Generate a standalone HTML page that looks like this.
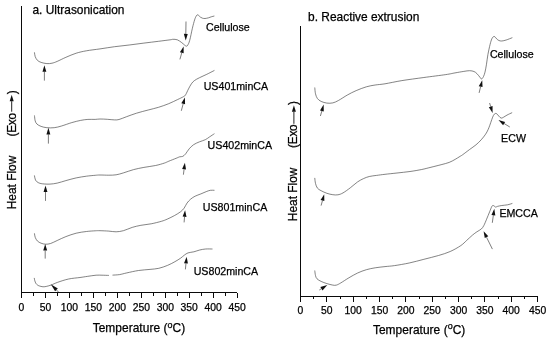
<!DOCTYPE html>
<html><head><meta charset="utf-8"><title>DSC curves</title>
<style>
html,body{margin:0;padding:0;background:#fff;}
body{width:550px;height:342px;overflow:hidden;}
svg{display:block;}
text{font-family:"Liberation Sans",sans-serif;fill:#000;stroke:#000;stroke-width:0.25px;}
.t{font-size:11.92px;}
.k{font-size:10.35px;}
.l{font-size:10.65px;}
.c{fill:none;stroke:#383838;stroke-width:0.62;stroke-linecap:round;stroke-linejoin:round;}
.ax{stroke:#0a0a0a;stroke-width:1;fill:none;shape-rendering:crispEdges;}
</style></head><body>
<svg width="550" height="342" viewBox="0 0 550 342">
<rect width="550" height="342" fill="#fff"/>

<path class="ax" d="M21.5,6 V292.5 H237.19"/>
<path class="ax" d="M21.50,292.5 v5.5 M33.48,292.5 v3.3 M45.47,292.5 v5.5 M57.45,292.5 v3.3 M69.43,292.5 v5.5 M81.41,292.5 v3.3 M93.39,292.5 v5.5 M105.38,292.5 v3.3 M117.36,292.5 v5.5 M129.34,292.5 v3.3 M141.32,292.5 v5.5 M153.31,292.5 v3.3 M165.29,292.5 v5.5 M177.27,292.5 v3.3 M189.25,292.5 v5.5 M201.24,292.5 v3.3 M213.22,292.5 v5.5 M225.20,292.5 v3.3 M237.19,292.5 v5.5 "/>
<text class="k" x="21.50" y="310.5" text-anchor="middle">0</text>
<text class="k" x="45.47" y="310.5" text-anchor="middle">50</text>
<text class="k" x="69.43" y="310.5" text-anchor="middle">100</text>
<text class="k" x="93.39" y="310.5" text-anchor="middle">150</text>
<text class="k" x="117.36" y="310.5" text-anchor="middle">200</text>
<text class="k" x="141.32" y="310.5" text-anchor="middle">250</text>
<text class="k" x="165.29" y="310.5" text-anchor="middle">300</text>
<text class="k" x="189.25" y="310.5" text-anchor="middle">350</text>
<text class="k" x="213.22" y="310.5" text-anchor="middle">400</text>
<text class="k" x="237.19" y="310.5" text-anchor="middle">450</text>
<text class="t" x="92.7" y="332.4" letter-spacing="0.05">Temperature (<tspan dy="-4.9" font-size="9px">o</tspan><tspan dy="4.9">C)</tspan></text>
<text class="t" x="32.5" y="14">a. Ultrasonication</text>
<text class="t" transform="translate(16,209.3) rotate(-90)" xml:space="preserve">Heat Flow</text>
<text class="t" transform="translate(16,136.5) rotate(-90)" letter-spacing="-0.28">(Exo</text>
<line x1="11.70" y1="111.70" x2="11.70" y2="101.20" stroke="#222" stroke-width="1"/><polygon points="11.70,94.70 13.70,101.20 9.70,101.20" fill="#111"/>
<text class="t" transform="translate(16,94.3) rotate(-90)">)</text>
<path class="c" d="M34.50,52.70 C34.62,53.35 34.72,55.33 35.20,56.60 C35.68,57.87 36.42,59.33 37.40,60.30 C38.38,61.27 39.52,61.85 41.10,62.40 C42.68,62.95 45.08,63.47 46.90,63.60 C48.72,63.73 50.28,63.57 52.00,63.20 C53.72,62.83 54.88,62.38 57.20,61.40 C59.52,60.42 62.73,58.67 65.90,57.30 C69.07,55.93 72.78,54.28 76.20,53.20 C79.62,52.12 82.43,51.52 86.40,50.80 C90.37,50.08 95.30,49.58 100.00,48.90 C104.70,48.22 109.73,47.35 114.60,46.70 C119.47,46.05 124.32,45.60 129.20,45.00 C134.08,44.40 139.02,43.72 143.90,43.10 C148.78,42.48 154.12,41.85 158.50,41.30 C162.88,40.75 167.78,40.13 170.20,39.80 C172.62,39.47 171.82,39.30 173.00,39.30 C174.18,39.30 175.85,39.25 177.30,39.80 C178.75,40.35 180.50,41.73 181.70,42.60 C182.90,43.47 183.75,44.42 184.50,45.00 C185.25,45.58 185.68,46.03 186.20,46.10 C186.72,46.17 187.02,46.35 187.60,45.40 C188.18,44.45 188.90,43.27 189.70,40.40 C190.50,37.53 191.58,31.62 192.40,28.20 C193.22,24.78 193.95,21.95 194.60,19.90 C195.25,17.85 195.80,16.75 196.30,15.90 C196.80,15.05 197.18,14.85 197.60,14.80 C198.02,14.75 198.32,15.20 198.80,15.60 C199.28,16.00 199.88,16.77 200.50,17.20 C201.12,17.63 201.75,17.98 202.50,18.20 C203.25,18.42 204.00,18.57 205.00,18.50 C206.00,18.43 207.45,18.08 208.50,17.80 C209.55,17.52 210.38,17.08 211.30,16.80 C212.22,16.52 213.55,16.22 214.00,16.10"/>
<path class="c" d="M34.50,115.80 C34.62,116.65 34.78,119.52 35.20,120.90 C35.62,122.28 36.02,123.18 37.00,124.10 C37.98,125.02 39.45,125.80 41.10,126.40 C42.75,127.00 44.72,127.48 46.90,127.70 C49.08,127.92 51.77,127.98 54.20,127.70 C56.63,127.42 58.57,126.85 61.50,126.00 C64.43,125.15 68.62,123.53 71.80,122.60 C74.98,121.67 77.92,120.93 80.60,120.40 C83.28,119.87 85.47,119.57 87.90,119.40 C90.33,119.23 93.18,119.47 95.20,119.40 C97.22,119.33 97.98,119.02 100.00,119.00 C102.02,118.98 104.87,119.15 107.30,119.30 C109.73,119.45 112.65,119.87 114.60,119.90 C116.55,119.93 117.05,120.02 119.00,119.50 C120.95,118.98 123.38,117.85 126.30,116.80 C129.22,115.75 132.85,114.33 136.50,113.20 C140.15,112.07 144.53,110.98 148.20,110.00 C151.87,109.02 155.08,108.35 158.50,107.30 C161.92,106.25 165.53,104.98 168.70,103.70 C171.87,102.42 175.05,100.77 177.50,99.60 C179.95,98.43 182.05,97.50 183.40,96.70 C184.75,95.90 184.75,96.10 185.60,94.80 C186.45,93.50 187.53,90.73 188.50,88.90 C189.47,87.07 190.42,85.18 191.40,83.80 C192.38,82.42 193.05,81.62 194.40,80.60 C195.75,79.58 197.43,78.75 199.50,77.70 C201.57,76.65 204.37,75.48 206.80,74.30 C209.23,73.12 212.88,71.22 214.10,70.60"/>
<path class="c" d="M34.50,175.80 C34.67,176.52 34.88,178.97 35.50,180.10 C36.12,181.23 37.03,181.98 38.20,182.60 C39.37,183.22 40.55,183.55 42.50,183.80 C44.45,184.05 47.45,184.22 49.90,184.10 C52.35,183.98 54.53,183.68 57.20,183.10 C59.87,182.52 62.73,181.47 65.90,180.60 C69.07,179.73 72.78,178.63 76.20,177.90 C79.62,177.17 83.23,176.63 86.40,176.20 C89.57,175.77 92.93,175.50 95.20,175.30 C97.47,175.10 97.73,175.02 100.00,175.00 C102.27,174.98 106.12,175.23 108.80,175.20 C111.48,175.17 113.67,175.18 116.10,174.80 C118.53,174.42 120.48,173.77 123.40,172.90 C126.32,172.03 130.18,170.52 133.60,169.60 C137.02,168.68 140.23,168.08 143.90,167.40 C147.57,166.72 152.20,166.22 155.60,165.50 C159.00,164.78 162.10,163.82 164.30,163.10 C166.50,162.38 166.83,162.00 168.80,161.20 C170.77,160.40 174.28,159.03 176.10,158.30 C177.92,157.57 178.60,157.12 179.70,156.80 C180.80,156.48 181.72,156.88 182.70,156.40 C183.68,155.92 184.52,155.17 185.60,153.90 C186.68,152.63 187.87,150.33 189.20,148.80 C190.53,147.27 191.88,145.87 193.60,144.70 C195.32,143.53 197.55,142.63 199.50,141.80 C201.45,140.97 203.60,140.53 205.30,139.70 C207.00,138.87 208.23,137.77 209.70,136.80 C211.17,135.83 213.37,134.38 214.10,133.90"/>
<path class="c" d="M34.50,233.70 C34.62,234.30 34.72,236.08 35.20,237.30 C35.68,238.52 36.42,240.02 37.40,241.00 C38.38,241.98 39.75,242.67 41.10,243.20 C42.45,243.73 43.92,244.15 45.50,244.20 C47.08,244.25 48.65,244.12 50.60,243.50 C52.55,242.88 54.65,241.65 57.20,240.50 C59.75,239.35 62.73,237.82 65.90,236.60 C69.07,235.38 72.78,234.05 76.20,233.20 C79.62,232.35 83.23,231.90 86.40,231.50 C89.57,231.10 92.93,230.93 95.20,230.80 C97.47,230.67 97.73,230.65 100.00,230.70 C102.27,230.75 106.12,230.92 108.80,231.10 C111.48,231.28 113.67,231.87 116.10,231.80 C118.53,231.73 120.72,231.43 123.40,230.70 C126.08,229.97 129.28,228.30 132.20,227.40 C135.12,226.50 137.73,225.90 140.90,225.30 C144.07,224.70 147.78,224.47 151.20,223.80 C154.62,223.13 158.72,222.08 161.40,221.30 C164.08,220.52 165.10,220.07 167.30,219.10 C169.50,218.13 172.40,216.72 174.60,215.50 C176.80,214.28 178.92,213.02 180.50,211.80 C182.08,210.58 183.02,209.65 184.10,208.20 C185.18,206.75 185.90,204.62 187.00,203.10 C188.10,201.58 189.35,200.25 190.70,199.10 C192.05,197.95 193.40,197.07 195.10,196.20 C196.80,195.33 198.95,194.70 200.90,193.90 C202.85,193.10 205.22,192.00 206.80,191.40 C208.38,190.80 209.18,190.48 210.40,190.30 C211.62,190.12 213.48,190.30 214.10,190.30"/>
<path class="c" d="M34.30,278.30 C34.38,278.70 34.53,279.85 34.80,280.70 C35.07,281.55 35.45,282.68 35.90,283.40 C36.35,284.12 36.95,284.58 37.50,285.00 C38.05,285.42 38.28,285.60 39.20,285.90 C40.12,286.20 41.73,286.73 43.00,286.80 C44.27,286.87 45.43,286.60 46.80,286.30 C48.17,286.00 49.38,285.67 51.20,285.00 C53.02,284.33 54.80,283.30 57.70,282.30 C60.60,281.30 64.88,279.80 68.60,279.00 C72.32,278.20 76.88,277.93 80.00,277.50 C83.12,277.07 84.62,276.78 87.30,276.40 C89.98,276.02 93.65,275.40 96.10,275.20 C98.55,275.00 99.93,275.17 102.00,275.20 C104.07,275.23 107.42,275.37 108.50,275.40"/>
<path class="c" d="M112.90,275.10 C114.00,275.02 117.18,274.97 119.50,274.60 C121.82,274.23 123.63,273.58 126.80,272.90 C129.97,272.22 134.63,271.08 138.50,270.50 C142.37,269.92 146.62,269.77 150.00,269.40 C153.38,269.03 155.88,268.97 158.80,268.30 C161.72,267.63 164.82,266.50 167.50,265.40 C170.18,264.30 172.70,262.92 174.90,261.70 C177.10,260.48 179.12,259.20 180.70,258.10 C182.28,257.00 183.18,255.97 184.40,255.10 C185.62,254.23 186.42,253.45 188.00,252.90 C189.58,252.35 191.95,252.28 193.90,251.80 C195.85,251.32 197.75,250.47 199.70,250.00 C201.65,249.53 203.53,249.17 205.60,249.00 C207.67,248.83 211.02,249.00 212.10,249.00"/>
<line x1="44.40" y1="80.60" x2="44.40" y2="71.80" stroke="#4a4a4a" stroke-width="0.72"/><polygon points="44.40,65.20 46.35,71.80 42.45,71.80" fill="#111"/>
<line x1="186.00" y1="21.50" x2="185.80" y2="33.90" stroke="#4a4a4a" stroke-width="0.72"/><polygon points="185.70,40.50 183.85,33.87 187.75,33.93" fill="#111"/>
<line x1="179.90" y1="59.40" x2="181.79" y2="52.75" stroke="#4a4a4a" stroke-width="0.72"/><polygon points="183.60,46.40 183.67,53.28 179.92,52.21" fill="#111"/>
<line x1="48.40" y1="143.60" x2="48.40" y2="134.40" stroke="#4a4a4a" stroke-width="0.72"/><polygon points="48.40,127.80 50.35,134.40 46.45,134.40" fill="#111"/>
<line x1="181.30" y1="110.80" x2="183.19" y2="103.77" stroke="#4a4a4a" stroke-width="0.72"/><polygon points="184.90,97.40 185.07,104.28 181.30,103.27" fill="#111"/>
<line x1="45.50" y1="200.90" x2="45.50" y2="192.00" stroke="#4a4a4a" stroke-width="0.72"/><polygon points="45.50,185.40 47.45,192.00 43.55,192.00" fill="#111"/>
<line x1="183.40" y1="174.70" x2="184.07" y2="169.35" stroke="#4a4a4a" stroke-width="0.72"/><polygon points="184.90,162.80 186.01,169.59 182.14,169.10" fill="#111"/>
<line x1="45.20" y1="258.60" x2="45.20" y2="250.60" stroke="#4a4a4a" stroke-width="0.72"/><polygon points="45.20,244.00 47.15,250.60 43.25,250.60" fill="#111"/>
<line x1="184.10" y1="222.40" x2="184.56" y2="216.78" stroke="#4a4a4a" stroke-width="0.72"/><polygon points="185.10,210.20 186.50,216.94 182.62,216.62" fill="#111"/>
<line x1="58.50" y1="292.00" x2="56.46" y2="289.96" stroke="#4a4a4a" stroke-width="0.72"/><polygon points="50.80,284.30 57.80,288.61 55.11,291.30" fill="#111"/>
<line x1="185.40" y1="269.40" x2="185.97" y2="263.37" stroke="#4a4a4a" stroke-width="0.72"/><polygon points="186.60,256.80 187.92,263.56 184.03,263.19" fill="#111"/>
<text class="l" x="206" y="30.7">Cellulose</text>
<text class="l" x="203.7" y="90.2">US401minCA</text>
<text class="l" x="207.6" y="149.4">US402minCA</text>
<text class="l" x="202.8" y="211">US801minCA</text>
<text class="l" x="193.7" y="274.8">US802minCA</text>
<path class="ax" d="M300.5,26 V296.5 H537.56"/>
<path class="ax" d="M300.50,296.5 v5.4 M313.67,296.5 v2.6 M326.84,296.5 v5.4 M340.01,296.5 v2.6 M353.18,296.5 v5.4 M366.35,296.5 v2.6 M379.52,296.5 v5.4 M392.69,296.5 v2.6 M405.86,296.5 v5.4 M419.03,296.5 v2.6 M432.20,296.5 v5.4 M445.37,296.5 v2.6 M458.54,296.5 v5.4 M471.71,296.5 v2.6 M484.88,296.5 v5.4 M498.05,296.5 v2.6 M511.22,296.5 v5.4 M524.39,296.5 v2.6 M537.56,296.5 v5.4 "/>
<text class="k" x="300.50" y="314.2" text-anchor="middle">0</text>
<text class="k" x="326.84" y="314.2" text-anchor="middle">50</text>
<text class="k" x="353.18" y="314.2" text-anchor="middle">100</text>
<text class="k" x="379.52" y="314.2" text-anchor="middle">150</text>
<text class="k" x="405.86" y="314.2" text-anchor="middle">200</text>
<text class="k" x="432.20" y="314.2" text-anchor="middle">250</text>
<text class="k" x="458.54" y="314.2" text-anchor="middle">300</text>
<text class="k" x="484.88" y="314.2" text-anchor="middle">350</text>
<text class="k" x="511.22" y="314.2" text-anchor="middle">400</text>
<text class="k" x="537.56" y="314.2" text-anchor="middle">450</text>
<text class="t" x="372.9" y="334.3" letter-spacing="0.05">Temperature (<tspan dy="-4.9" font-size="9px">o</tspan><tspan dy="4.9">C)</tspan></text>
<text class="t" x="308.1" y="20.5">b. Reactive extrusion</text>
<text class="t" transform="translate(297.4,221.2) rotate(-90)" xml:space="preserve">Heat Flow</text>
<text class="t" transform="translate(297.3,147.9) rotate(-90)" letter-spacing="-0.28">(Exo</text>
<line x1="293.90" y1="123.80" x2="293.90" y2="111.70" stroke="#222" stroke-width="1"/><polygon points="293.90,105.20 295.90,111.70 291.90,111.70" fill="#111"/>
<text class="t" transform="translate(297.3,105.1) rotate(-90)">)</text>
<path class="c" d="M314.80,87.90 C314.92,88.88 315.07,92.03 315.50,93.80 C315.93,95.57 316.47,97.23 317.40,98.50 C318.33,99.77 319.52,100.63 321.10,101.40 C322.68,102.17 324.95,102.85 326.90,103.10 C328.85,103.35 330.85,103.35 332.80,102.90 C334.75,102.45 336.17,101.72 338.60,100.40 C341.03,99.08 344.47,96.63 347.40,95.00 C350.33,93.37 353.03,91.97 356.20,90.60 C359.37,89.23 363.23,87.73 366.40,86.80 C369.57,85.87 372.10,85.50 375.20,85.00 C378.30,84.50 380.55,84.53 385.00,83.80 C389.45,83.07 395.42,81.65 401.90,80.60 C408.38,79.55 416.58,78.50 423.90,77.50 C431.22,76.50 440.62,75.37 445.80,74.60 C450.98,73.83 452.00,73.43 455.00,72.90 C458.00,72.37 461.37,71.77 463.80,71.40 C466.23,71.03 467.90,70.68 469.60,70.70 C471.30,70.72 472.78,71.02 474.00,71.50 C475.22,71.98 475.92,72.65 476.90,73.60 C477.88,74.55 479.12,76.30 479.90,77.20 C480.68,78.10 481.00,79.12 481.60,79.00 C482.20,78.88 482.93,77.65 483.50,76.50 C484.07,75.35 484.52,74.05 485.00,72.10 C485.48,70.15 485.92,67.72 486.40,64.80 C486.88,61.88 487.28,58.00 487.90,54.60 C488.52,51.20 489.45,47.02 490.10,44.40 C490.75,41.78 491.27,40.17 491.80,38.90 C492.33,37.63 492.80,37.17 493.30,36.80 C493.80,36.43 494.23,36.35 494.80,36.70 C495.37,37.05 496.02,38.27 496.70,38.90 C497.38,39.53 498.05,40.15 498.90,40.50 C499.75,40.85 500.58,41.08 501.80,41.00 C503.02,40.92 504.50,40.53 506.20,40.00 C507.90,39.47 511.03,38.17 512.00,37.80"/>
<path class="c" d="M314.80,178.30 C314.92,179.15 315.07,181.77 315.50,183.40 C315.93,185.03 316.47,186.88 317.40,188.10 C318.33,189.32 319.52,189.83 321.10,190.70 C322.68,191.57 324.95,192.63 326.90,193.30 C328.85,193.97 330.97,194.45 332.80,194.70 C334.63,194.95 336.20,195.10 337.90,194.80 C339.60,194.50 340.93,194.07 343.00,192.90 C345.07,191.73 347.87,189.63 350.30,187.80 C352.73,185.97 355.40,183.43 357.60,181.90 C359.80,180.37 361.55,179.50 363.50,178.60 C365.45,177.70 367.12,177.03 369.30,176.50 C371.48,175.97 373.98,175.77 376.60,175.40 C379.22,175.03 381.60,174.70 385.00,174.30 C388.40,173.90 392.83,173.47 397.00,173.00 C401.17,172.53 405.88,172.08 410.00,171.50 C414.12,170.92 418.37,170.17 421.70,169.50 C425.03,168.83 427.62,168.08 430.00,167.50 C432.38,166.92 434.02,166.50 436.00,166.00 C437.98,165.50 439.70,165.10 441.90,164.50 C444.10,163.90 447.00,163.25 449.20,162.40 C451.40,161.55 453.30,160.40 455.10,159.40 C456.90,158.40 458.73,157.18 460.00,156.40 C461.27,155.62 461.10,155.85 462.70,154.70 C464.30,153.55 467.38,151.15 469.60,149.50 C471.82,147.85 474.07,146.42 476.00,144.80 C477.93,143.18 479.60,141.57 481.20,139.80 C482.80,138.03 484.47,135.87 485.60,134.20 C486.73,132.53 487.30,131.28 488.00,129.80 C488.70,128.32 489.17,127.02 489.80,125.30 C490.43,123.58 491.18,121.17 491.80,119.50 C492.42,117.83 492.93,116.30 493.50,115.30 C494.07,114.30 494.65,113.75 495.20,113.50 C495.75,113.25 496.20,113.37 496.80,113.80 C497.40,114.23 498.08,115.38 498.80,116.10 C499.52,116.82 500.33,117.90 501.10,118.10 C501.87,118.30 502.42,117.80 503.40,117.30 C504.38,116.80 505.60,115.85 507.00,115.10 C508.40,114.35 511.00,113.18 511.80,112.80"/>
<path class="c" d="M314.80,270.90 C314.92,271.68 315.13,274.28 315.50,275.60 C315.87,276.92 316.07,277.83 317.00,278.80 C317.93,279.77 319.45,280.60 321.10,281.40 C322.75,282.20 324.95,282.98 326.90,283.60 C328.85,284.22 331.22,284.85 332.80,285.10 C334.38,285.35 335.07,285.47 336.40,285.10 C337.73,284.73 338.72,284.12 340.80,282.90 C342.88,281.68 346.10,279.45 348.90,277.80 C351.70,276.15 354.68,274.35 357.60,273.00 C360.52,271.65 363.47,270.57 366.40,269.70 C369.33,268.83 372.10,268.32 375.20,267.80 C378.30,267.28 381.77,266.97 385.00,266.60 C388.23,266.23 390.57,266.20 394.60,265.60 C398.63,265.00 404.32,264.05 409.20,263.00 C414.08,261.95 419.02,260.55 423.90,259.30 C428.78,258.05 434.12,256.80 438.50,255.50 C442.88,254.20 446.48,253.15 450.20,251.50 C453.92,249.85 458.05,247.45 460.80,245.60 C463.55,243.75 464.75,242.15 466.70,240.40 C468.65,238.65 470.80,236.53 472.50,235.10 C474.20,233.67 475.43,232.82 476.90,231.80 C478.37,230.78 480.15,230.03 481.30,229.00 C482.45,227.97 482.92,227.23 483.80,225.60 C484.68,223.97 485.63,221.48 486.60,219.20 C487.57,216.92 488.77,213.95 489.60,211.90 C490.43,209.85 491.07,207.97 491.60,206.90 C492.13,205.83 492.37,205.65 492.80,205.50 C493.23,205.35 493.73,205.73 494.20,206.00 C494.67,206.27 495.07,207.03 495.60,207.10 C496.13,207.17 496.37,206.67 497.40,206.40 C498.43,206.13 500.10,205.77 501.80,205.50 C503.50,205.23 505.90,205.13 507.60,204.80 C509.30,204.47 511.27,203.72 512.00,203.50"/>
<line x1="320.40" y1="116.00" x2="321.86" y2="110.94" stroke="#4a4a4a" stroke-width="0.72"/><polygon points="323.70,104.60 323.74,111.48 319.99,110.40" fill="#111"/>
<line x1="479.10" y1="92.90" x2="480.63" y2="86.61" stroke="#4a4a4a" stroke-width="0.72"/><polygon points="482.20,80.20 482.53,87.07 478.74,86.15" fill="#111"/>
<line x1="321.10" y1="205.60" x2="322.47" y2="200.57" stroke="#4a4a4a" stroke-width="0.72"/><polygon points="324.20,194.20 324.35,201.08 320.59,200.06" fill="#111"/>
<line x1="489.60" y1="103.00" x2="490.70" y2="106.68" stroke="#4a4a4a" stroke-width="0.72"/><polygon points="492.60,113.00 488.84,107.24 492.57,106.12" fill="#111"/>
<line x1="509.80" y1="127.00" x2="504.13" y2="123.54" stroke="#4a4a4a" stroke-width="0.72"/><polygon points="498.50,120.10 505.15,121.88 503.12,125.20" fill="#111"/>
<line x1="319.30" y1="290.00" x2="321.42" y2="288.70" stroke="#4a4a4a" stroke-width="0.72"/><polygon points="327.30,285.10 322.49,290.45 320.35,286.96" fill="#111"/>
<line x1="492.30" y1="222.80" x2="493.37" y2="215.23" stroke="#4a4a4a" stroke-width="0.72"/><polygon points="494.30,208.70 495.30,215.51 491.44,214.96" fill="#111"/>
<line x1="492.40" y1="249.10" x2="486.52" y2="237.22" stroke="#4a4a4a" stroke-width="0.72"/><polygon points="483.60,231.30 488.27,236.35 484.78,238.08" fill="#111"/>
<text class="l" x="489.9" y="58">Cellulose</text>
<text class="l" x="501.1" y="141.9">ECW</text>
<text class="l" x="499.4" y="217.4">EMCCA</text>
</svg></body></html>
